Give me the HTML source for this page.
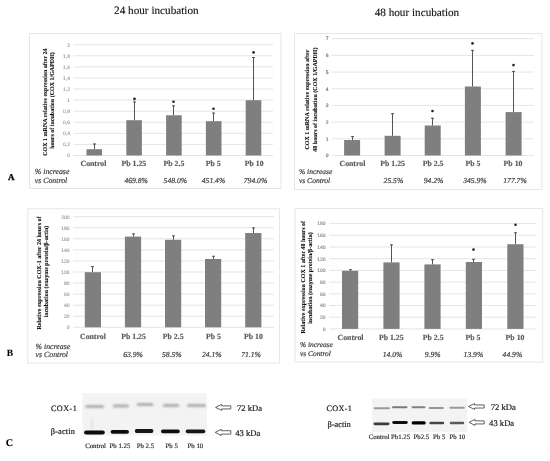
<!DOCTYPE html>
<html><head><meta charset="utf-8"><title>COX-1 expression figure</title>
<style>html,body{margin:0;padding:0;background:#fff;width:550px;height:461px;overflow:hidden}svg{display:block}</style>
</head><body><div id="w">
<svg width="550" height="461" viewBox="0 0 550 461" text-rendering="geometricPrecision">
<rect width="550" height="461" fill="#fff"/>
<text x="114.1" y="14.3" font-family="'Liberation Serif', 'Times New Roman', serif" font-size="11.2" font-weight="normal" font-style="normal" fill="#111" text-anchor="start" stroke="#111" stroke-width="0.12" >24 hour incubation</text>
<text x="374.7" y="15.8" font-family="'Liberation Serif', 'Times New Roman', serif" font-size="11.2" font-weight="normal" font-style="normal" fill="#111" text-anchor="start" stroke="#111" stroke-width="0.12" >48 hour incubation</text>
<text x="7.9" y="179.9" font-family="'Liberation Serif', 'Times New Roman', serif" font-size="9.0" font-weight="bold" font-style="normal" fill="#000" text-anchor="start" stroke="#000" stroke-width="0.3" >A</text>
<text x="6.7" y="355.5" font-family="'Liberation Serif', 'Times New Roman', serif" font-size="9.5" font-weight="bold" font-style="normal" fill="#000" text-anchor="start" stroke="#000" stroke-width="0.1" >B</text>
<text x="5.8" y="446.4" font-family="'Liberation Serif', 'Times New Roman', serif" font-size="10.2" font-weight="bold" font-style="normal" fill="#000" text-anchor="start" stroke="#000" stroke-width="0.1" >C</text>
<rect x="29.5" y="33.5" width="251.5" height="155.0" fill="#fff" stroke="#e6e6e6" stroke-width="1"/>
<line x1="73.5" y1="155.50" x2="273" y2="155.50" stroke="#e5e5e5" stroke-width="1"/>
<text x="70" y="157.30" font-family="'Liberation Sans', Arial, sans-serif" font-size="5" font-weight="normal" font-style="normal" fill="#999" text-anchor="end" stroke="#999" stroke-width="0.12" >0</text>
<line x1="73.5" y1="144.42" x2="273" y2="144.42" stroke="#e5e5e5" stroke-width="1"/>
<text x="70" y="146.22" font-family="'Liberation Sans', Arial, sans-serif" font-size="5" font-weight="normal" font-style="normal" fill="#999" text-anchor="end" stroke="#999" stroke-width="0.12" >0,2</text>
<line x1="73.5" y1="133.34" x2="273" y2="133.34" stroke="#e5e5e5" stroke-width="1"/>
<text x="70" y="135.14" font-family="'Liberation Sans', Arial, sans-serif" font-size="5" font-weight="normal" font-style="normal" fill="#999" text-anchor="end" stroke="#999" stroke-width="0.12" >0,4</text>
<line x1="73.5" y1="122.26" x2="273" y2="122.26" stroke="#e5e5e5" stroke-width="1"/>
<text x="70" y="124.06" font-family="'Liberation Sans', Arial, sans-serif" font-size="5" font-weight="normal" font-style="normal" fill="#999" text-anchor="end" stroke="#999" stroke-width="0.12" >0,6</text>
<line x1="73.5" y1="111.18" x2="273" y2="111.18" stroke="#e5e5e5" stroke-width="1"/>
<text x="70" y="112.98" font-family="'Liberation Sans', Arial, sans-serif" font-size="5" font-weight="normal" font-style="normal" fill="#999" text-anchor="end" stroke="#999" stroke-width="0.12" >0,8</text>
<line x1="73.5" y1="100.10" x2="273" y2="100.10" stroke="#e5e5e5" stroke-width="1"/>
<text x="70" y="101.90" font-family="'Liberation Sans', Arial, sans-serif" font-size="5" font-weight="normal" font-style="normal" fill="#999" text-anchor="end" stroke="#999" stroke-width="0.12" >1</text>
<line x1="73.5" y1="89.02" x2="273" y2="89.02" stroke="#e5e5e5" stroke-width="1"/>
<text x="70" y="90.82" font-family="'Liberation Sans', Arial, sans-serif" font-size="5" font-weight="normal" font-style="normal" fill="#999" text-anchor="end" stroke="#999" stroke-width="0.12" >1,2</text>
<line x1="73.5" y1="77.94" x2="273" y2="77.94" stroke="#e5e5e5" stroke-width="1"/>
<text x="70" y="79.74" font-family="'Liberation Sans', Arial, sans-serif" font-size="5" font-weight="normal" font-style="normal" fill="#999" text-anchor="end" stroke="#999" stroke-width="0.12" >1,4</text>
<line x1="73.5" y1="66.86" x2="273" y2="66.86" stroke="#e5e5e5" stroke-width="1"/>
<text x="70" y="68.66" font-family="'Liberation Sans', Arial, sans-serif" font-size="5" font-weight="normal" font-style="normal" fill="#999" text-anchor="end" stroke="#999" stroke-width="0.12" >1,6</text>
<line x1="73.5" y1="55.78" x2="273" y2="55.78" stroke="#e5e5e5" stroke-width="1"/>
<text x="70" y="57.58" font-family="'Liberation Sans', Arial, sans-serif" font-size="5" font-weight="normal" font-style="normal" fill="#999" text-anchor="end" stroke="#999" stroke-width="0.12" >1,8</text>
<line x1="73.5" y1="44.70" x2="273" y2="44.70" stroke="#e5e5e5" stroke-width="1"/>
<text x="70" y="46.50" font-family="'Liberation Sans', Arial, sans-serif" font-size="5" font-weight="normal" font-style="normal" fill="#999" text-anchor="end" stroke="#999" stroke-width="0.12" >2</text>
<rect x="86.5" y="149.2" width="15.6" height="6.30" fill="#7f7f7f"/>
<line x1="94.50" y1="143.5" x2="94.50" y2="149.2" stroke="#555555" stroke-width="1"/>
<line x1="93.00" y1="144.0" x2="96.00" y2="144.0" stroke="#555555" stroke-width="1"/>
<rect x="126.3" y="120.2" width="15.6" height="35.30" fill="#7f7f7f"/>
<line x1="134.50" y1="101.5" x2="134.50" y2="120.2" stroke="#555555" stroke-width="1"/>
<line x1="133.00" y1="102.0" x2="136.00" y2="102.0" stroke="#555555" stroke-width="1"/>
<circle cx="134.50" cy="98.9" r="1.3" fill="#222"/>
<rect x="166.1" y="115.3" width="15.6" height="40.20" fill="#7f7f7f"/>
<line x1="173.50" y1="105.4" x2="173.50" y2="115.3" stroke="#555555" stroke-width="1"/>
<line x1="172.00" y1="105.9" x2="175.00" y2="105.9" stroke="#555555" stroke-width="1"/>
<circle cx="173.50" cy="101.8" r="1.3" fill="#222"/>
<rect x="205.9" y="121.2" width="15.6" height="34.30" fill="#7f7f7f"/>
<line x1="213.50" y1="112.6" x2="213.50" y2="121.2" stroke="#555555" stroke-width="1"/>
<line x1="212.00" y1="113.1" x2="215.00" y2="113.1" stroke="#555555" stroke-width="1"/>
<circle cx="213.50" cy="108.7" r="1.3" fill="#222"/>
<rect x="245.7" y="100.2" width="15.6" height="55.30" fill="#7f7f7f"/>
<line x1="253.50" y1="57" x2="253.50" y2="100.2" stroke="#555555" stroke-width="1"/>
<line x1="252.00" y1="57.5" x2="255.00" y2="57.5" stroke="#555555" stroke-width="1"/>
<circle cx="253.50" cy="52.4" r="1.3" fill="#222"/>
<text x="80.5" y="166.4" font-family="'Liberation Serif', 'Times New Roman', serif" font-size="7.8" font-weight="bold" font-style="normal" fill="#595959" text-anchor="start" stroke="#595959" stroke-width="0.15" >Control</text>
<text x="121.5" y="166.4" font-family="'Liberation Serif', 'Times New Roman', serif" font-size="7.8" font-weight="bold" font-style="normal" fill="#595959" text-anchor="start" stroke="#595959" stroke-width="0.15" >Pb 1.25</text>
<text x="163.5" y="166.4" font-family="'Liberation Serif', 'Times New Roman', serif" font-size="7.8" font-weight="bold" font-style="normal" fill="#595959" text-anchor="start" stroke="#595959" stroke-width="0.15" >Pb 2.5</text>
<text x="205.8" y="166.4" font-family="'Liberation Serif', 'Times New Roman', serif" font-size="7.8" font-weight="bold" font-style="normal" fill="#595959" text-anchor="start" stroke="#595959" stroke-width="0.15" >Pb 5</text>
<text x="244.8" y="166.4" font-family="'Liberation Serif', 'Times New Roman', serif" font-size="7.8" font-weight="bold" font-style="normal" fill="#595959" text-anchor="start" stroke="#595959" stroke-width="0.15" >Pb 10</text>
<text x="34.8" y="174.3" font-family="'Liberation Serif', 'Times New Roman', serif" font-size="7.8" font-weight="normal" font-style="italic" fill="#404040" text-anchor="start" stroke="#404040" stroke-width="0.2" >% increase</text>
<text x="34.8" y="183.3" font-family="'Liberation Serif', 'Times New Roman', serif" font-size="7.8" font-weight="normal" font-style="italic" fill="#404040" text-anchor="start" stroke="#404040" stroke-width="0.2" >vs Control</text>
<text x="124.4" y="183.4" font-family="'Liberation Serif', 'Times New Roman', serif" font-size="7.6" font-weight="normal" font-style="italic" fill="#404040" text-anchor="start" stroke="#404040" stroke-width="0.2" >469.8%</text>
<text x="163.6" y="183.4" font-family="'Liberation Serif', 'Times New Roman', serif" font-size="7.6" font-weight="normal" font-style="italic" fill="#404040" text-anchor="start" stroke="#404040" stroke-width="0.2" >548.0%</text>
<text x="201.8" y="183.4" font-family="'Liberation Serif', 'Times New Roman', serif" font-size="7.6" font-weight="normal" font-style="italic" fill="#404040" text-anchor="start" stroke="#404040" stroke-width="0.2" >451.4%</text>
<text x="243.8" y="183.4" font-family="'Liberation Serif', 'Times New Roman', serif" font-size="7.6" font-weight="normal" font-style="italic" fill="#404040" text-anchor="start" stroke="#404040" stroke-width="0.2" >794.0%</text>
<text transform="translate(46.7,102.1) rotate(-90)" x="0" y="0" font-family="'Liberation Serif', 'Times New Roman', serif" font-size="6" font-weight="bold" fill="#111" stroke="#111" stroke-width="0.12" text-anchor="middle">COX 1 mRNA relative expression after 24</text>
<text transform="translate(54.2,100.5) rotate(-90)" x="0" y="0" font-family="'Liberation Serif', 'Times New Roman', serif" font-size="6" font-weight="bold" fill="#111" stroke="#111" stroke-width="0.12" text-anchor="middle">hours of incubation (COX 1/GAPDH)</text>
<rect x="294.5" y="33.5" width="247.5" height="155.9" fill="#fff" stroke="#e6e6e6" stroke-width="1"/>
<line x1="331.5" y1="155.50" x2="534" y2="155.50" stroke="#e5e5e5" stroke-width="1"/>
<text x="328.5" y="157.30" font-family="'Liberation Sans', Arial, sans-serif" font-size="5" font-weight="normal" font-style="normal" fill="#7a7a7a" text-anchor="end" stroke="#7a7a7a" stroke-width="0.2" >0</text>
<line x1="331.5" y1="138.81" x2="534" y2="138.81" stroke="#e5e5e5" stroke-width="1"/>
<text x="328.5" y="140.61" font-family="'Liberation Sans', Arial, sans-serif" font-size="5" font-weight="normal" font-style="normal" fill="#7a7a7a" text-anchor="end" stroke="#7a7a7a" stroke-width="0.2" >1</text>
<line x1="331.5" y1="122.12" x2="534" y2="122.12" stroke="#e5e5e5" stroke-width="1"/>
<text x="328.5" y="123.92" font-family="'Liberation Sans', Arial, sans-serif" font-size="5" font-weight="normal" font-style="normal" fill="#7a7a7a" text-anchor="end" stroke="#7a7a7a" stroke-width="0.2" >2</text>
<line x1="331.5" y1="105.43" x2="534" y2="105.43" stroke="#e5e5e5" stroke-width="1"/>
<text x="328.5" y="107.23" font-family="'Liberation Sans', Arial, sans-serif" font-size="5" font-weight="normal" font-style="normal" fill="#7a7a7a" text-anchor="end" stroke="#7a7a7a" stroke-width="0.2" >3</text>
<line x1="331.5" y1="88.74" x2="534" y2="88.74" stroke="#e5e5e5" stroke-width="1"/>
<text x="328.5" y="90.54" font-family="'Liberation Sans', Arial, sans-serif" font-size="5" font-weight="normal" font-style="normal" fill="#7a7a7a" text-anchor="end" stroke="#7a7a7a" stroke-width="0.2" >4</text>
<line x1="331.5" y1="72.05" x2="534" y2="72.05" stroke="#e5e5e5" stroke-width="1"/>
<text x="328.5" y="73.85" font-family="'Liberation Sans', Arial, sans-serif" font-size="5" font-weight="normal" font-style="normal" fill="#7a7a7a" text-anchor="end" stroke="#7a7a7a" stroke-width="0.2" >5</text>
<line x1="331.5" y1="55.36" x2="534" y2="55.36" stroke="#e5e5e5" stroke-width="1"/>
<text x="328.5" y="57.16" font-family="'Liberation Sans', Arial, sans-serif" font-size="5" font-weight="normal" font-style="normal" fill="#7a7a7a" text-anchor="end" stroke="#7a7a7a" stroke-width="0.2" >6</text>
<line x1="331.5" y1="38.67" x2="534" y2="38.67" stroke="#e5e5e5" stroke-width="1"/>
<text x="328.5" y="40.47" font-family="'Liberation Sans', Arial, sans-serif" font-size="5" font-weight="normal" font-style="normal" fill="#7a7a7a" text-anchor="end" stroke="#7a7a7a" stroke-width="0.2" >7</text>
<rect x="344.1" y="140" width="16" height="15.50" fill="#7f7f7f"/>
<line x1="352.50" y1="136.1" x2="352.50" y2="140" stroke="#555555" stroke-width="1"/>
<line x1="351.00" y1="136.6" x2="354.00" y2="136.6" stroke="#555555" stroke-width="1"/>
<rect x="384.6" y="135.8" width="16" height="19.70" fill="#7f7f7f"/>
<line x1="392.50" y1="113.2" x2="392.50" y2="135.8" stroke="#555555" stroke-width="1"/>
<line x1="391.00" y1="113.7" x2="394.00" y2="113.7" stroke="#555555" stroke-width="1"/>
<rect x="424.7" y="125.5" width="16" height="30.00" fill="#7f7f7f"/>
<line x1="432.50" y1="117.8" x2="432.50" y2="125.5" stroke="#555555" stroke-width="1"/>
<line x1="431.00" y1="118.3" x2="434.00" y2="118.3" stroke="#555555" stroke-width="1"/>
<circle cx="432.50" cy="111" r="1.3" fill="#222"/>
<rect x="464.9" y="86.5" width="16" height="69.00" fill="#7f7f7f"/>
<line x1="472.50" y1="49.9" x2="472.50" y2="86.5" stroke="#555555" stroke-width="1"/>
<line x1="471.00" y1="50.4" x2="474.00" y2="50.4" stroke="#555555" stroke-width="1"/>
<circle cx="472.50" cy="43.4" r="1.3" fill="#222"/>
<rect x="505.6" y="112.1" width="16" height="43.40" fill="#7f7f7f"/>
<line x1="513.50" y1="70.9" x2="513.50" y2="112.1" stroke="#555555" stroke-width="1"/>
<line x1="512.00" y1="71.4" x2="515.00" y2="71.4" stroke="#555555" stroke-width="1"/>
<circle cx="513.50" cy="65.1" r="1.3" fill="#222"/>
<text x="339.5" y="166.4" font-family="'Liberation Serif', 'Times New Roman', serif" font-size="7.8" font-weight="bold" font-style="normal" fill="#595959" text-anchor="start" stroke="#595959" stroke-width="0.15" >Control</text>
<text x="380.3" y="166.4" font-family="'Liberation Serif', 'Times New Roman', serif" font-size="7.8" font-weight="bold" font-style="normal" fill="#595959" text-anchor="start" stroke="#595959" stroke-width="0.15" >Pb 1.25</text>
<text x="422.7" y="166.4" font-family="'Liberation Serif', 'Times New Roman', serif" font-size="7.8" font-weight="bold" font-style="normal" fill="#595959" text-anchor="start" stroke="#595959" stroke-width="0.15" >Pb 2.5</text>
<text x="465.4" y="166.4" font-family="'Liberation Serif', 'Times New Roman', serif" font-size="7.8" font-weight="bold" font-style="normal" fill="#595959" text-anchor="start" stroke="#595959" stroke-width="0.15" >Pb 5</text>
<text x="503.6" y="166.4" font-family="'Liberation Serif', 'Times New Roman', serif" font-size="7.8" font-weight="bold" font-style="normal" fill="#595959" text-anchor="start" stroke="#595959" stroke-width="0.15" >Pb 10</text>
<text x="299.0" y="173.6" font-family="'Liberation Serif', 'Times New Roman', serif" font-size="7.5" font-weight="normal" font-style="italic" fill="#404040" text-anchor="start" stroke="#404040" stroke-width="0.2" >% increase</text>
<text x="299.0" y="182.7" font-family="'Liberation Serif', 'Times New Roman', serif" font-size="7.5" font-weight="normal" font-style="italic" fill="#404040" text-anchor="start" stroke="#404040" stroke-width="0.2" >vs Control</text>
<text x="383.6" y="183.2" font-family="'Liberation Serif', 'Times New Roman', serif" font-size="7.6" font-weight="normal" font-style="italic" fill="#404040" text-anchor="start" stroke="#404040" stroke-width="0.2" >25.5%</text>
<text x="423.8" y="183.2" font-family="'Liberation Serif', 'Times New Roman', serif" font-size="7.6" font-weight="normal" font-style="italic" fill="#404040" text-anchor="start" stroke="#404040" stroke-width="0.2" >94.2%</text>
<text x="463.2" y="183.2" font-family="'Liberation Serif', 'Times New Roman', serif" font-size="7.6" font-weight="normal" font-style="italic" fill="#404040" text-anchor="start" stroke="#404040" stroke-width="0.2" >345.9%</text>
<text x="503.3" y="183.2" font-family="'Liberation Serif', 'Times New Roman', serif" font-size="7.6" font-weight="normal" font-style="italic" fill="#404040" text-anchor="start" stroke="#404040" stroke-width="0.2" >177.7%</text>
<text transform="translate(309.4,99.6) rotate(-90)" x="0" y="0" font-family="'Liberation Serif', 'Times New Roman', serif" font-size="6" font-weight="bold" fill="#111" stroke="#111" stroke-width="0.12" text-anchor="middle">COX 1 mRNA relative expression after</text>
<text transform="translate(316.6,99.6) rotate(-90)" x="0" y="0" font-family="'Liberation Serif', 'Times New Roman', serif" font-size="6" font-weight="bold" fill="#111" stroke="#111" stroke-width="0.12" text-anchor="middle">48 hours of incubation (COX 1/GAPDH)</text>
<rect x="27.8" y="208.8" width="251.8" height="154.3" fill="#fff" stroke="#e6e6e6" stroke-width="1"/>
<line x1="73" y1="327.30" x2="274" y2="327.30" stroke="#e5e5e5" stroke-width="1"/>
<text x="69.5" y="329.10" font-family="'Liberation Sans', Arial, sans-serif" font-size="5" font-weight="normal" font-style="normal" fill="#999" text-anchor="end" stroke="#999" stroke-width="0.12" >0</text>
<line x1="73" y1="316.24" x2="274" y2="316.24" stroke="#e5e5e5" stroke-width="1"/>
<text x="69.5" y="318.04" font-family="'Liberation Sans', Arial, sans-serif" font-size="5" font-weight="normal" font-style="normal" fill="#999" text-anchor="end" stroke="#999" stroke-width="0.12" >20</text>
<line x1="73" y1="305.18" x2="274" y2="305.18" stroke="#e5e5e5" stroke-width="1"/>
<text x="69.5" y="306.98" font-family="'Liberation Sans', Arial, sans-serif" font-size="5" font-weight="normal" font-style="normal" fill="#999" text-anchor="end" stroke="#999" stroke-width="0.12" >40</text>
<line x1="73" y1="294.12" x2="274" y2="294.12" stroke="#e5e5e5" stroke-width="1"/>
<text x="69.5" y="295.92" font-family="'Liberation Sans', Arial, sans-serif" font-size="5" font-weight="normal" font-style="normal" fill="#999" text-anchor="end" stroke="#999" stroke-width="0.12" >60</text>
<line x1="73" y1="283.06" x2="274" y2="283.06" stroke="#e5e5e5" stroke-width="1"/>
<text x="69.5" y="284.86" font-family="'Liberation Sans', Arial, sans-serif" font-size="5" font-weight="normal" font-style="normal" fill="#999" text-anchor="end" stroke="#999" stroke-width="0.12" >80</text>
<line x1="73" y1="272.00" x2="274" y2="272.00" stroke="#e5e5e5" stroke-width="1"/>
<text x="69.5" y="273.80" font-family="'Liberation Sans', Arial, sans-serif" font-size="5" font-weight="normal" font-style="normal" fill="#999" text-anchor="end" stroke="#999" stroke-width="0.12" >100</text>
<line x1="73" y1="260.94" x2="274" y2="260.94" stroke="#e5e5e5" stroke-width="1"/>
<text x="69.5" y="262.74" font-family="'Liberation Sans', Arial, sans-serif" font-size="5" font-weight="normal" font-style="normal" fill="#999" text-anchor="end" stroke="#999" stroke-width="0.12" >120</text>
<line x1="73" y1="249.88" x2="274" y2="249.88" stroke="#e5e5e5" stroke-width="1"/>
<text x="69.5" y="251.68" font-family="'Liberation Sans', Arial, sans-serif" font-size="5" font-weight="normal" font-style="normal" fill="#999" text-anchor="end" stroke="#999" stroke-width="0.12" >140</text>
<line x1="73" y1="238.82" x2="274" y2="238.82" stroke="#e5e5e5" stroke-width="1"/>
<text x="69.5" y="240.62" font-family="'Liberation Sans', Arial, sans-serif" font-size="5" font-weight="normal" font-style="normal" fill="#999" text-anchor="end" stroke="#999" stroke-width="0.12" >160</text>
<line x1="73" y1="227.76" x2="274" y2="227.76" stroke="#e5e5e5" stroke-width="1"/>
<text x="69.5" y="229.56" font-family="'Liberation Sans', Arial, sans-serif" font-size="5" font-weight="normal" font-style="normal" fill="#999" text-anchor="end" stroke="#999" stroke-width="0.12" >180</text>
<line x1="73" y1="216.70" x2="274" y2="216.70" stroke="#e5e5e5" stroke-width="1"/>
<text x="69.5" y="218.50" font-family="'Liberation Sans', Arial, sans-serif" font-size="5" font-weight="normal" font-style="normal" fill="#999" text-anchor="end" stroke="#999" stroke-width="0.12" >200</text>
<rect x="84.8" y="272.2" width="16.2" height="55.10" fill="#7f7f7f"/>
<line x1="92.50" y1="266.2" x2="92.50" y2="272.2" stroke="#555555" stroke-width="1"/>
<line x1="91.00" y1="266.7" x2="94.00" y2="266.7" stroke="#555555" stroke-width="1"/>
<rect x="124.9" y="236.6" width="16.2" height="90.70" fill="#7f7f7f"/>
<line x1="133.50" y1="233.4" x2="133.50" y2="236.6" stroke="#555555" stroke-width="1"/>
<line x1="132.00" y1="233.9" x2="135.00" y2="233.9" stroke="#555555" stroke-width="1"/>
<rect x="165.0" y="239.8" width="16.2" height="87.50" fill="#7f7f7f"/>
<line x1="173.50" y1="235.4" x2="173.50" y2="239.8" stroke="#555555" stroke-width="1"/>
<line x1="172.00" y1="235.9" x2="175.00" y2="235.9" stroke="#555555" stroke-width="1"/>
<rect x="205.0" y="259" width="16.2" height="68.30" fill="#7f7f7f"/>
<line x1="213.50" y1="255.8" x2="213.50" y2="259" stroke="#555555" stroke-width="1"/>
<line x1="212.00" y1="256.3" x2="215.00" y2="256.3" stroke="#555555" stroke-width="1"/>
<rect x="245.2" y="233" width="16.2" height="94.30" fill="#7f7f7f"/>
<line x1="253.50" y1="227.4" x2="253.50" y2="233" stroke="#555555" stroke-width="1"/>
<line x1="252.00" y1="227.9" x2="255.00" y2="227.9" stroke="#555555" stroke-width="1"/>
<text x="80" y="338.6" font-family="'Liberation Serif', 'Times New Roman', serif" font-size="7.8" font-weight="bold" font-style="normal" fill="#595959" text-anchor="start" stroke="#595959" stroke-width="0.15" >Control</text>
<text x="121.2" y="338.6" font-family="'Liberation Serif', 'Times New Roman', serif" font-size="7.8" font-weight="bold" font-style="normal" fill="#595959" text-anchor="start" stroke="#595959" stroke-width="0.15" >Pb 1.25</text>
<text x="162.8" y="338.6" font-family="'Liberation Serif', 'Times New Roman', serif" font-size="7.8" font-weight="bold" font-style="normal" fill="#595959" text-anchor="start" stroke="#595959" stroke-width="0.15" >Pb 2.5</text>
<text x="206" y="338.6" font-family="'Liberation Serif', 'Times New Roman', serif" font-size="7.8" font-weight="bold" font-style="normal" fill="#595959" text-anchor="start" stroke="#595959" stroke-width="0.15" >Pb 5</text>
<text x="244" y="338.6" font-family="'Liberation Serif', 'Times New Roman', serif" font-size="7.8" font-weight="bold" font-style="normal" fill="#595959" text-anchor="start" stroke="#595959" stroke-width="0.15" >Pb 10</text>
<text x="35.6" y="348.7" font-family="'Liberation Serif', 'Times New Roman', serif" font-size="7.8" font-weight="normal" font-style="italic" fill="#404040" text-anchor="start" stroke="#404040" stroke-width="0.2" >% increase</text>
<text x="35.6" y="357.3" font-family="'Liberation Serif', 'Times New Roman', serif" font-size="7.8" font-weight="normal" font-style="italic" fill="#404040" text-anchor="start" stroke="#404040" stroke-width="0.2" >vs Control</text>
<text x="123.2" y="356.8" font-family="'Liberation Serif', 'Times New Roman', serif" font-size="7.6" font-weight="normal" font-style="italic" fill="#404040" text-anchor="start" stroke="#404040" stroke-width="0.2" >63.9%</text>
<text x="162" y="356.8" font-family="'Liberation Serif', 'Times New Roman', serif" font-size="7.6" font-weight="normal" font-style="italic" fill="#404040" text-anchor="start" stroke="#404040" stroke-width="0.2" >58.5%</text>
<text x="202" y="356.8" font-family="'Liberation Serif', 'Times New Roman', serif" font-size="7.6" font-weight="normal" font-style="italic" fill="#404040" text-anchor="start" stroke="#404040" stroke-width="0.2" >24.1%</text>
<text x="241.2" y="356.8" font-family="'Liberation Serif', 'Times New Roman', serif" font-size="7.6" font-weight="normal" font-style="italic" fill="#404040" text-anchor="start" stroke="#404040" stroke-width="0.2" >71.1%</text>
<text transform="translate(40.9,273) rotate(-90)" x="0" y="0" font-family="'Liberation Serif', 'Times New Roman', serif" font-size="6" font-weight="bold" fill="#111" stroke="#111" stroke-width="0.12" text-anchor="middle">Relative expression COX-1 after 24 hours of</text>
<text transform="translate(47.8,271.5) rotate(-90)" x="0" y="0" font-family="'Liberation Serif', 'Times New Roman', serif" font-size="6" font-weight="bold" fill="#111" stroke="#111" stroke-width="0.12" text-anchor="middle">incubation (enzyme protein/β-actin)</text>
<rect x="295.0" y="208.5" width="247.79999999999995" height="153.60000000000002" fill="#fff" stroke="#e6e6e6" stroke-width="1"/>
<line x1="329.3" y1="328.90" x2="535.8" y2="328.90" stroke="#e5e5e5" stroke-width="1"/>
<text x="325.5" y="330.70" font-family="'Liberation Sans', Arial, sans-serif" font-size="5" font-weight="normal" font-style="normal" fill="#8a8a8a" text-anchor="end" stroke="#8a8a8a" stroke-width="0.15" >0</text>
<line x1="329.3" y1="317.20" x2="535.8" y2="317.20" stroke="#e5e5e5" stroke-width="1"/>
<text x="325.5" y="319.00" font-family="'Liberation Sans', Arial, sans-serif" font-size="5" font-weight="normal" font-style="normal" fill="#8a8a8a" text-anchor="end" stroke="#8a8a8a" stroke-width="0.15" >20</text>
<line x1="329.3" y1="305.50" x2="535.8" y2="305.50" stroke="#e5e5e5" stroke-width="1"/>
<text x="325.5" y="307.30" font-family="'Liberation Sans', Arial, sans-serif" font-size="5" font-weight="normal" font-style="normal" fill="#8a8a8a" text-anchor="end" stroke="#8a8a8a" stroke-width="0.15" >40</text>
<line x1="329.3" y1="293.80" x2="535.8" y2="293.80" stroke="#e5e5e5" stroke-width="1"/>
<text x="325.5" y="295.60" font-family="'Liberation Sans', Arial, sans-serif" font-size="5" font-weight="normal" font-style="normal" fill="#8a8a8a" text-anchor="end" stroke="#8a8a8a" stroke-width="0.15" >60</text>
<line x1="329.3" y1="282.10" x2="535.8" y2="282.10" stroke="#e5e5e5" stroke-width="1"/>
<text x="325.5" y="283.90" font-family="'Liberation Sans', Arial, sans-serif" font-size="5" font-weight="normal" font-style="normal" fill="#8a8a8a" text-anchor="end" stroke="#8a8a8a" stroke-width="0.15" >80</text>
<line x1="329.3" y1="270.40" x2="535.8" y2="270.40" stroke="#e5e5e5" stroke-width="1"/>
<text x="325.5" y="272.20" font-family="'Liberation Sans', Arial, sans-serif" font-size="5" font-weight="normal" font-style="normal" fill="#8a8a8a" text-anchor="end" stroke="#8a8a8a" stroke-width="0.15" >100</text>
<line x1="329.3" y1="258.70" x2="535.8" y2="258.70" stroke="#e5e5e5" stroke-width="1"/>
<text x="325.5" y="260.50" font-family="'Liberation Sans', Arial, sans-serif" font-size="5" font-weight="normal" font-style="normal" fill="#8a8a8a" text-anchor="end" stroke="#8a8a8a" stroke-width="0.15" >120</text>
<line x1="329.3" y1="247.00" x2="535.8" y2="247.00" stroke="#e5e5e5" stroke-width="1"/>
<text x="325.5" y="248.80" font-family="'Liberation Sans', Arial, sans-serif" font-size="5" font-weight="normal" font-style="normal" fill="#8a8a8a" text-anchor="end" stroke="#8a8a8a" stroke-width="0.15" >140</text>
<line x1="329.3" y1="235.30" x2="535.8" y2="235.30" stroke="#e5e5e5" stroke-width="1"/>
<text x="325.5" y="237.10" font-family="'Liberation Sans', Arial, sans-serif" font-size="5" font-weight="normal" font-style="normal" fill="#8a8a8a" text-anchor="end" stroke="#8a8a8a" stroke-width="0.15" >160</text>
<line x1="329.3" y1="223.60" x2="535.8" y2="223.60" stroke="#e5e5e5" stroke-width="1"/>
<text x="325.5" y="225.40" font-family="'Liberation Sans', Arial, sans-serif" font-size="5" font-weight="normal" font-style="normal" fill="#8a8a8a" text-anchor="end" stroke="#8a8a8a" stroke-width="0.15" >180</text>
<rect x="342" y="270.8" width="16.2" height="58.10" fill="#7f7f7f"/>
<line x1="350.50" y1="269.2" x2="350.50" y2="270.8" stroke="#555555" stroke-width="1"/>
<line x1="349.00" y1="269.7" x2="352.00" y2="269.7" stroke="#555555" stroke-width="1"/>
<rect x="383.4" y="262.4" width="16.2" height="66.50" fill="#7f7f7f"/>
<line x1="391.50" y1="244.4" x2="391.50" y2="262.4" stroke="#555555" stroke-width="1"/>
<line x1="390.00" y1="244.9" x2="393.00" y2="244.9" stroke="#555555" stroke-width="1"/>
<rect x="424.4" y="264.4" width="16.2" height="64.50" fill="#7f7f7f"/>
<line x1="432.50" y1="259.2" x2="432.50" y2="264.4" stroke="#555555" stroke-width="1"/>
<line x1="431.00" y1="259.7" x2="434.00" y2="259.7" stroke="#555555" stroke-width="1"/>
<rect x="465.8" y="262" width="16.2" height="66.90" fill="#7f7f7f"/>
<line x1="473.50" y1="258.8" x2="473.50" y2="262" stroke="#555555" stroke-width="1"/>
<line x1="472.00" y1="259.3" x2="475.00" y2="259.3" stroke="#555555" stroke-width="1"/>
<circle cx="473.50" cy="249.6" r="1.3" fill="#222"/>
<rect x="507.3" y="244.2" width="16.2" height="84.70" fill="#7f7f7f"/>
<line x1="515.50" y1="232.3" x2="515.50" y2="244.2" stroke="#555555" stroke-width="1"/>
<line x1="514.00" y1="232.8" x2="517.00" y2="232.8" stroke="#555555" stroke-width="1"/>
<circle cx="515.50" cy="224.8" r="1.3" fill="#222"/>
<text x="337.6" y="340.2" font-family="'Liberation Serif', 'Times New Roman', serif" font-size="7.8" font-weight="bold" font-style="normal" fill="#595959" text-anchor="start" stroke="#595959" stroke-width="0.15" >Control</text>
<text x="378.9" y="340.2" font-family="'Liberation Serif', 'Times New Roman', serif" font-size="7.8" font-weight="bold" font-style="normal" fill="#595959" text-anchor="start" stroke="#595959" stroke-width="0.15" >Pb 1.25</text>
<text x="422.8" y="340.2" font-family="'Liberation Serif', 'Times New Roman', serif" font-size="7.8" font-weight="bold" font-style="normal" fill="#595959" text-anchor="start" stroke="#595959" stroke-width="0.15" >Pb 2.5</text>
<text x="465.5" y="340.2" font-family="'Liberation Serif', 'Times New Roman', serif" font-size="7.8" font-weight="bold" font-style="normal" fill="#595959" text-anchor="start" stroke="#595959" stroke-width="0.15" >Pb 5</text>
<text x="505.6" y="340.2" font-family="'Liberation Serif', 'Times New Roman', serif" font-size="7.8" font-weight="bold" font-style="normal" fill="#595959" text-anchor="start" stroke="#595959" stroke-width="0.15" >Pb 10</text>
<text x="300.0" y="346.8" font-family="'Liberation Serif', 'Times New Roman', serif" font-size="7.4" font-weight="normal" font-style="italic" fill="#404040" text-anchor="start" stroke="#404040" stroke-width="0.2" >% increase</text>
<text x="300.0" y="356.1" font-family="'Liberation Serif', 'Times New Roman', serif" font-size="7.4" font-weight="normal" font-style="italic" fill="#404040" text-anchor="start" stroke="#404040" stroke-width="0.2" >vs Control</text>
<text x="382.7" y="356.6" font-family="'Liberation Serif', 'Times New Roman', serif" font-size="7.6" font-weight="normal" font-style="italic" fill="#404040" text-anchor="start" stroke="#404040" stroke-width="0.2" >14.0%</text>
<text x="424.7" y="356.6" font-family="'Liberation Serif', 'Times New Roman', serif" font-size="7.6" font-weight="normal" font-style="italic" fill="#404040" text-anchor="start" stroke="#404040" stroke-width="0.2" >9.9%</text>
<text x="463.6" y="356.6" font-family="'Liberation Serif', 'Times New Roman', serif" font-size="7.6" font-weight="normal" font-style="italic" fill="#404040" text-anchor="start" stroke="#404040" stroke-width="0.2" >13.9%</text>
<text x="502.6" y="356.6" font-family="'Liberation Serif', 'Times New Roman', serif" font-size="7.6" font-weight="normal" font-style="italic" fill="#404040" text-anchor="start" stroke="#404040" stroke-width="0.2" >44.9%</text>
<text transform="translate(304.6,277.2) rotate(-90)" x="0" y="0" font-family="'Liberation Serif', 'Times New Roman', serif" font-size="6" font-weight="bold" fill="#111" stroke="#111" stroke-width="0.12" text-anchor="middle">Relative expression COX 1 after 48 hours of</text>
<text transform="translate(311.8,278) rotate(-90)" x="0" y="0" font-family="'Liberation Serif', 'Times New Roman', serif" font-size="6" font-weight="bold" fill="#111" stroke="#111" stroke-width="0.12" text-anchor="middle">incubation (enzyme protein/β-actin)</text>
<defs><filter id="bl" x="-20%" y="-150%" width="140%" height="400%"><feGaussianBlur stdDeviation="0.6"/></filter><filter id="bl2" x="-20%" y="-150%" width="140%" height="400%"><feGaussianBlur stdDeviation="0.9"/></filter></defs>
<rect x="82.3" y="393.1" width="124.5" height="42.4" fill="#f3f3f3"/>
<rect x="85.2" y="404.90" width="19.00" height="3.0" rx="1.50" fill="#adadad" opacity="1" filter="url(#bl2)"/>
<rect x="112.7" y="404.50" width="16.30" height="3.0" rx="1.50" fill="#adadad" opacity="1" filter="url(#bl2)"/>
<rect x="136.6" y="403.10" width="16.80" height="3.0" rx="1.50" fill="#adadad" opacity="1" filter="url(#bl2)"/>
<rect x="162.8" y="404.10" width="16.50" height="3.0" rx="1.50" fill="#adadad" opacity="1" filter="url(#bl2)"/>
<rect x="187" y="403.90" width="19.00" height="3.0" rx="1.50" fill="#adadad" opacity="1" filter="url(#bl2)"/>
<rect x="91" y="419" width="2.2" height="10" fill="#e0e0e0" filter="url(#bl2)"/>
<rect x="84.1" y="430.40" width="20.70" height="4.0" rx="2.00" fill="#0a0a0a" opacity="1" filter="url(#bl)"/>
<rect x="110.6" y="429.90" width="18.40" height="3.8" rx="1.90" fill="#111" opacity="1" filter="url(#bl)"/>
<rect x="134.8" y="429.10" width="18.60" height="3.8" rx="1.90" fill="#151515" opacity="1" filter="url(#bl)"/>
<rect x="161" y="429.60" width="18.80" height="3.6" rx="1.80" fill="#111" opacity="1" filter="url(#bl)"/>
<rect x="185.7" y="429.60" width="19.60" height="3.6" rx="1.80" fill="#151515" opacity="1" filter="url(#bl)"/>
<text x="50.9" y="410.9" font-family="'Liberation Serif', 'Times New Roman', serif" font-size="8.2" font-weight="normal" font-style="normal" fill="#222" text-anchor="start" stroke="#222" stroke-width="0.2" letter-spacing="0.45">COX-1</text>
<text x="50.7" y="434.1" font-family="'Liberation Serif', 'Times New Roman', serif" font-size="8.4" font-weight="normal" font-style="normal" fill="#222" text-anchor="start" stroke="#222" stroke-width="0.2" letter-spacing="0.15">β-actin</text>
<polygon points="215.60,407.40 221.60,404.45 221.60,405.85 230.80,405.85 230.80,408.95 221.60,408.95 221.60,410.35" fill="#fff" stroke="#3a3a3a" stroke-width="0.8"/>
<polygon points="215.20,432.40 221.20,429.30 221.20,430.70 230.80,430.70 230.80,434.10 221.20,434.10 221.20,435.50" fill="#fff" stroke="#3a3a3a" stroke-width="0.8"/>
<text x="237" y="411.0" font-family="'Liberation Serif', 'Times New Roman', serif" font-size="8.6" font-weight="normal" font-style="normal" fill="#222" text-anchor="start" stroke="#222" stroke-width="0.2" >72 kDa</text>
<text x="235.2" y="435.6" font-family="'Liberation Serif', 'Times New Roman', serif" font-size="8.6" font-weight="normal" font-style="normal" fill="#222" text-anchor="start" stroke="#222" stroke-width="0.2" >43 kDa</text>
<text x="85.2" y="447.5" font-family="'Liberation Serif', 'Times New Roman', serif" font-size="6.8" font-weight="normal" font-style="normal" fill="#222" text-anchor="start" stroke="#222" stroke-width="0.15" >Control</text>
<text x="109.6" y="447.5" font-family="'Liberation Serif', 'Times New Roman', serif" font-size="6.8" font-weight="normal" font-style="normal" fill="#222" text-anchor="start" stroke="#222" stroke-width="0.15" >Pb 1.25</text>
<text x="136.7" y="447.5" font-family="'Liberation Serif', 'Times New Roman', serif" font-size="6.8" font-weight="normal" font-style="normal" fill="#222" text-anchor="start" stroke="#222" stroke-width="0.15" >Pb 2.5</text>
<text x="165.6" y="447.5" font-family="'Liberation Serif', 'Times New Roman', serif" font-size="6.8" font-weight="normal" font-style="normal" fill="#222" text-anchor="start" stroke="#222" stroke-width="0.15" >Pb 5</text>
<text x="187.6" y="447.5" font-family="'Liberation Serif', 'Times New Roman', serif" font-size="6.8" font-weight="normal" font-style="normal" fill="#222" text-anchor="start" stroke="#222" stroke-width="0.15" >Pb 10</text>
<rect x="372.1" y="398.5" width="95.1" height="33.5" fill="#f3f3f3"/>
<rect x="373.7" y="407.25" width="16.20" height="2.1" rx="1.05" fill="#999" opacity="1" filter="url(#bl)"/>
<rect x="392" y="406.15" width="15.50" height="2.1" rx="1.05" fill="#7a7a7a" opacity="1" filter="url(#bl)"/>
<rect x="411.6" y="406.25" width="13.90" height="2.1" rx="1.05" fill="#808080" opacity="1" filter="url(#bl)"/>
<rect x="428.7" y="406.95" width="15.10" height="2.1" rx="1.05" fill="#959595" opacity="1" filter="url(#bl)"/>
<rect x="449.4" y="406.65" width="15.30" height="2.1" rx="1.05" fill="#999" opacity="1" filter="url(#bl)"/>
<rect x="373.5" y="422.45" width="16.00" height="2.7" rx="1.35" fill="#3a3a3a" opacity="1" filter="url(#bl)"/>
<rect x="392.3" y="421.10" width="15.40" height="2.8" rx="1.40" fill="#111" opacity="1" filter="url(#bl)"/>
<rect x="411.6" y="421.20" width="14.20" height="3.4" rx="1.70" fill="#000" opacity="1" filter="url(#bl)"/>
<rect x="429.3" y="421.65" width="14.90" height="2.7" rx="1.35" fill="#444" opacity="1" filter="url(#bl)"/>
<rect x="449.7" y="421.80" width="14.50" height="2.4" rx="1.20" fill="#5a5a5a" opacity="1" filter="url(#bl)"/>
<text x="326.5" y="411.0" font-family="'Liberation Serif', 'Times New Roman', serif" font-size="8.2" font-weight="normal" font-style="normal" fill="#222" text-anchor="start" stroke="#222" stroke-width="0.2" letter-spacing="0.3">COX-1</text>
<text x="327.4" y="427.4" font-family="'Liberation Serif', 'Times New Roman', serif" font-size="8.4" font-weight="normal" font-style="normal" fill="#222" text-anchor="start" stroke="#222" stroke-width="0.2" >β-actin</text>
<polygon points="468.50,406.50 474.50,403.55 474.50,404.95 484.20,404.95 484.20,408.05 474.50,408.05 474.50,409.45" fill="#fff" stroke="#3a3a3a" stroke-width="0.8"/>
<polygon points="469.00,422.40 475.00,419.45 475.00,420.85 484.20,420.85 484.20,423.95 475.00,423.95 475.00,425.35" fill="#fff" stroke="#3a3a3a" stroke-width="0.8"/>
<text x="490.8" y="409.5" font-family="'Liberation Serif', 'Times New Roman', serif" font-size="8.6" font-weight="normal" font-style="normal" fill="#222" text-anchor="start" stroke="#222" stroke-width="0.2" >72 kDa</text>
<text x="489.1" y="425.6" font-family="'Liberation Serif', 'Times New Roman', serif" font-size="8.6" font-weight="normal" font-style="normal" fill="#222" text-anchor="start" stroke="#222" stroke-width="0.2" >43 kDa</text>
<text x="368.7" y="438.9" font-family="'Liberation Serif', 'Times New Roman', serif" font-size="6.8" font-weight="normal" font-style="normal" fill="#222" text-anchor="start" stroke="#222" stroke-width="0.15" >Control</text>
<text x="391" y="438.9" font-family="'Liberation Serif', 'Times New Roman', serif" font-size="6.8" font-weight="normal" font-style="normal" fill="#222" text-anchor="start" stroke="#222" stroke-width="0.15" >Pb1.25</text>
<text x="413.5" y="438.9" font-family="'Liberation Serif', 'Times New Roman', serif" font-size="6.8" font-weight="normal" font-style="normal" fill="#222" text-anchor="start" stroke="#222" stroke-width="0.15" >Pb2.5</text>
<text x="433.1" y="438.9" font-family="'Liberation Serif', 'Times New Roman', serif" font-size="6.8" font-weight="normal" font-style="normal" fill="#222" text-anchor="start" stroke="#222" stroke-width="0.15" >Pb 5</text>
<text x="449.5" y="438.9" font-family="'Liberation Serif', 'Times New Roman', serif" font-size="6.8" font-weight="normal" font-style="normal" fill="#222" text-anchor="start" stroke="#222" stroke-width="0.15" >Pb 10</text>
</svg>
</div></body></html>
